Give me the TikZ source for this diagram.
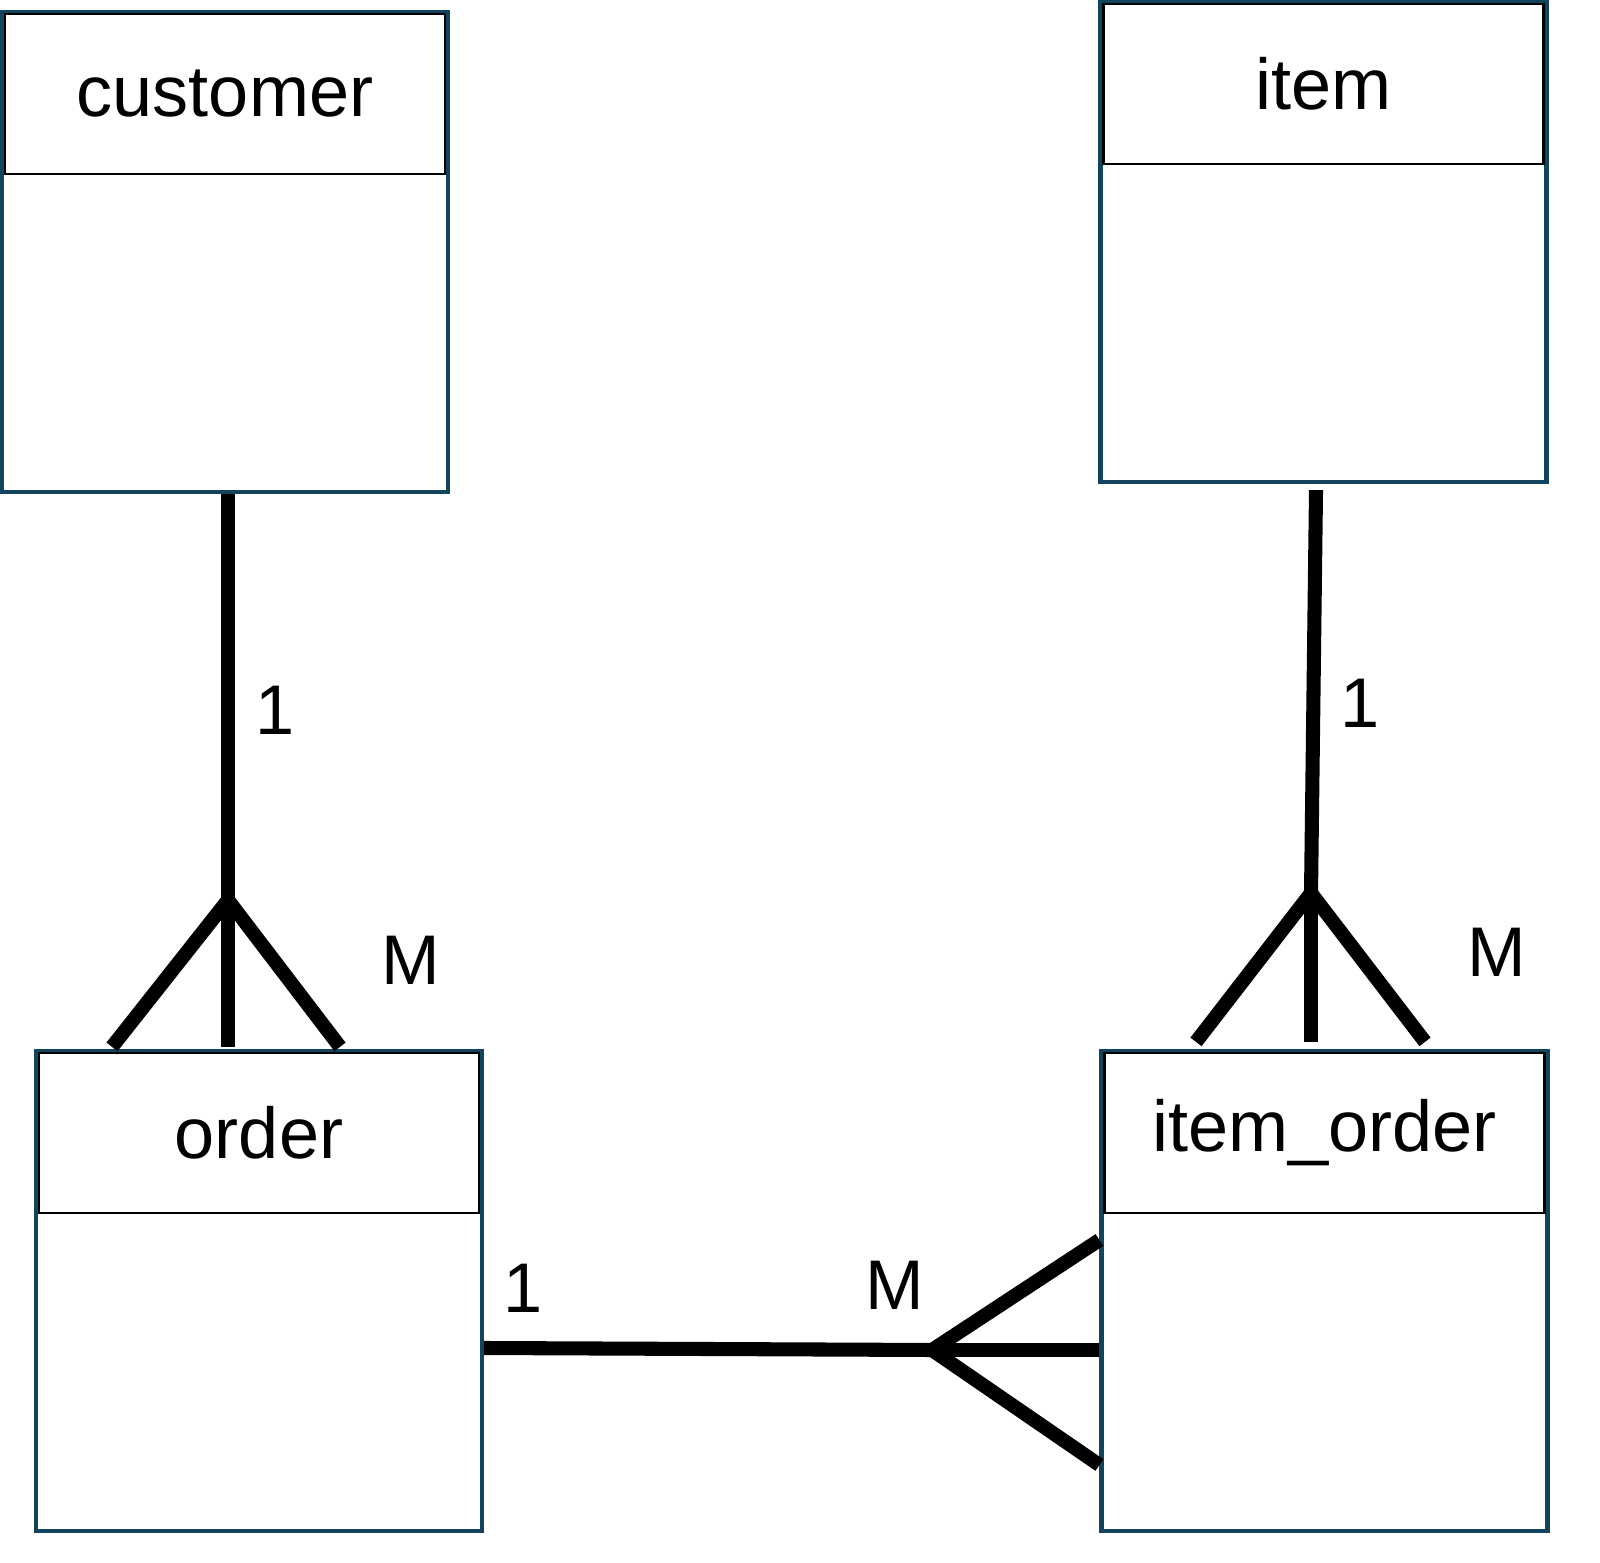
\documentclass[tikz,border=0pt]{standalone}
\usepackage{fontspec}
\setmainfont{Liberation Sans}
\usetikzlibrary{calc}
\definecolor{entityblue}{RGB}{18,68,94}
\begin{document}
\begin{tikzpicture}[
    entity/.style={draw=entityblue, line width=1.2pt, minimum width=4.46cm,
        minimum height=4.8cm, inner sep=0pt},
    header/.style={draw=black, line width=0.6pt, minimum width=4.40cm,
        minimum height=1.6cm, inner sep=0pt, anchor=north,
        font=\fontsize{20.5}{24}\selectfont},
    link/.style={line width=4pt},
    card/.style={font=\fontsize{20}{24}\selectfont}
]
    \useasboundingbox (0, 0) rectangle (16, 15.62);

    % Draw the four entity boxes
    \node[entity] (customer) at (2.25, 13.10) {};
    \node[entity] (item) at (13.235, 13.20) {};
    \node[entity] (order) at (2.59, 2.71) {};
    \node[entity] (itemorder) at (13.245, 2.71) {};

    % Header of each box with its name
    \node[header] (customerhead) at ([yshift=-0.03cm]customer.north) {customer};
    \node[header] (itemhead) at ([yshift=-0.03cm]item.north) {item};
    \node[header] (orderhead) at ([yshift=-0.03cm]order.north) {order};
    \node[header] (itemorderhead) at ([yshift=-0.03cm]itemorder.north) {item\_order};

    % Forks of the crow's feet
    \coordinate (forkA) at (2.28, 6.62);
    \coordinate (forkB) at (13.11, 6.69);
    \coordinate (forkC) at (9.32, 2.12);

    % customer to order
    \draw[link] (customer.south -| forkA) -- (forkA);
    \draw[link] (forkA) -- ($(forkA |- order.north)+(0, 0.02)$);
    \draw[link] (forkA) -- ($(forkA |- order.north)+(-1.16, 0.02)$);
    \draw[link] (forkA) -- ($(forkA |- order.north)+(1.12, 0.02)$);

    % item to item_order
    \draw[link] ($(item.south -| forkB)+(0.05, -0.06)$) -- (forkB);
    \draw[link] (forkB) -- ($(forkB |- itemorder.north)+(0, 0.07)$);
    \draw[link] (forkB) -- ($(forkB |- itemorder.north)+(-1.15, 0.07)$);
    \draw[link] (forkB) -- ($(forkB |- itemorder.north)+(1.14, 0.07)$);

    % order to item_order
    \draw[link] ($(order.east)+(0, -0.57)$) -- (forkC);
    \draw[link] (forkC) -- (itemorder.west |- forkC);
    \draw[link] (forkC) -- ($(itemorder.west |- forkC)+(0, 1.10)$);
    \draw[link] (forkC) -- ($(itemorder.west |- forkC)+(0, -1.15)$);

    % Cardinality labels
    \foreach \x/\y/\t/\n in {
        2.75/8.52/1/cardA, 4.11/6.02/M/cardB,
        13.60/8.59/1/cardC, 14.97/6.10/M/cardD,
        5.23/2.74/1/cardE, 8.95/2.77/M/cardF
    }
    \node[card] (\n) at (\x, \y) {\t};
\end{tikzpicture}
\end{document}
